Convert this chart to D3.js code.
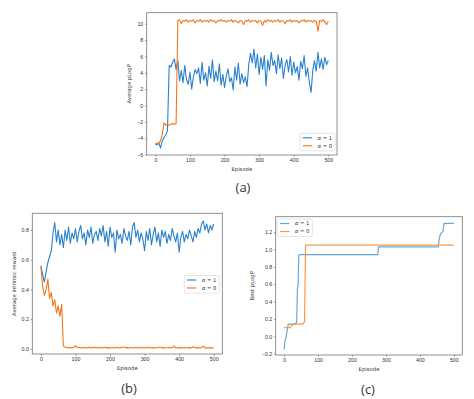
<!DOCTYPE html>
<html>
<head>
<meta charset="utf-8">
<script src="https://cdn.jsdelivr.net/npm/d3@7"></script>
<style>
  body { margin: 0; background: #fff; }
  svg { font-family: "DejaVu Sans", sans-serif; }
  .tick text { fill: #333; font-size: 5.3px; }
  .tick line { stroke: #444; stroke-width: 0.6; }
  .domain { display: none; }
  .caption { font-family: "Open Sans", sans-serif; font-size: 13px; fill: #333; }
</style>
</head>
<body>
<div id="chart"></div>
<script>
// sampled every 5 episodes
const episodes = d3.range(0, 501, 5);

// (a) average pLogP
const pLogpAlpha1 = [
  -4.7, -4.8, -4.6, -5.2, -4.3, -3.9, -3.6, -3.1, 4.9, 4.7,
  5.3, 5.7, 4.4, 5.5, 3.0, 4.3, 2.8, 4.9, 3.2, 2.6,
  4.1, 2.0, 3.5, 4.4, 3.9, 4.6, 2.7, 5.3, 3.1, 4.0,
  2.4, 4.8, 3.3, 5.6, 2.9, 4.2, 3.0, 5.1, 2.5, 3.8,
  2.2, 3.6, 4.5, 2.9, 3.4, 1.9, 4.7, 3.1, 5.2, 2.6,
  3.9, 2.8, 3.5, 2.3, 5.0, 6.4, 5.2, 6.9, 4.6, 6.3,
  3.8, 5.9, 4.4, 6.1, 2.4, 5.6, 4.3, 6.5, 4.9, 5.5,
  3.9, 6.2, 4.5, 5.8, 3.3, 4.9, 5.6, 4.1, 6.0, 3.7,
  5.3, 4.0, 4.8, 3.1, 5.4, 4.5, 6.1, 3.6, 4.6, 2.9,
  1.6, 4.3, 5.5, 4.2, 6.5, 4.6, 5.7, 4.4, 5.9, 5.0,
  5.5
];
const pLogpAlpha0 = [
  -4.7, -4.6, -4.6, -4.3, -3.5, -2.1, -2.4, -2.3, -2.4, -2.3,
  -2.2, -2.3, -2.2, 10.4, 10.5, 10.0, 10.4, 10.3, 10.5, 10.2,
  10.4, 10.3, 10.5, 10.1, 10.4, 10.3, 10.5, 10.2, 10.4, 10.3,
  10.4, 10.2, 10.5, 10.3, 10.4, 10.1, 10.4, 10.3, 10.5, 10.3,
  10.4, 10.2, 10.4, 10.3, 10.5, 10.2, 10.4, 10.3, 10.1, 10.4,
  10.3, 9.9, 10.4, 10.3, 10.5, 10.2, 10.4, 10.3, 10.4, 10.1,
  10.4, 10.3, 9.8, 10.4, 10.2, 10.5, 10.3, 10.4, 10.2, 10.4,
  10.3, 10.5, 10.2, 10.4, 10.3, 10.0, 10.4, 10.3, 10.5, 10.2,
  10.4, 10.3, 10.4, 10.1, 10.4, 10.3, 10.5, 10.2, 10.4, 10.3,
  10.4, 10.2, 10.4, 10.3, 9.1, 10.4, 10.3, 10.5, 10.2, 9.9,
  10.3
];

// (b) average intrinsic reward
const rewardAlpha1 = [
  0.56, 0.50, 0.45, 0.52, 0.58, 0.62, 0.66, 0.78, 0.85, 0.72,
  0.80, 0.70, 0.77, 0.68, 0.80, 0.73, 0.82, 0.71, 0.78, 0.74,
  0.81, 0.72, 0.79, 0.83, 0.74, 0.78, 0.70, 0.80, 0.75, 0.82,
  0.71, 0.77, 0.79, 0.73, 0.81, 0.76, 0.83, 0.72, 0.79, 0.69,
  0.82, 0.75, 0.78, 0.65, 0.80, 0.74, 0.77, 0.71, 0.81, 0.76,
  0.73, 0.79, 0.70, 0.82, 0.85, 0.75, 0.80, 0.72, 0.78, 0.74,
  0.66, 0.79, 0.73, 0.81, 0.70, 0.77, 0.82, 0.72, 0.78, 0.69,
  0.80, 0.75, 0.79, 0.71, 0.77, 0.73, 0.81, 0.76, 0.72, 0.78,
  0.65, 0.75, 0.79, 0.72, 0.77, 0.74, 0.80, 0.76, 0.72, 0.79,
  0.75, 0.81, 0.78, 0.84, 0.86, 0.80, 0.84, 0.78, 0.83, 0.80,
  0.84
];
const rewardAlpha0 = [
  0.55, 0.42, 0.36, 0.40, 0.47, 0.34, 0.38, 0.29, 0.33, 0.24,
  0.29, 0.22, 0.30, 0.02, 0.012, 0.008, 0.010, 0.007, 0.009, 0.008,
  0.022, 0.008, 0.011, 0.006, 0.009, 0.008, 0.010, 0.007, 0.012, 0.006,
  0.009, 0.011, 0.007, 0.010, 0.006, 0.009, 0.008, 0.012, 0.007, 0.009,
  0.006, 0.010, 0.008, 0.007, 0.011, 0.006, 0.009, 0.008, 0.014, 0.007,
  0.009, 0.006, 0.010, 0.008, 0.007, 0.011, 0.006, 0.009, 0.008, 0.007,
  0.010, 0.006, 0.012, 0.008, 0.007, 0.009, 0.006, 0.010, 0.008, 0.013,
  0.007, 0.009, 0.006, 0.008, 0.010, 0.007, 0.009, 0.021, 0.006, 0.008,
  0.007, 0.009, 0.006, 0.010, 0.008, 0.007, 0.009, 0.006, 0.016, 0.008,
  0.007, 0.009, 0.006, 0.010, 0.019, 0.007, 0.008, 0.006, 0.009, 0.007,
  0.005
];

// (c) best pLogP, step-like so its own episode points
const bestEpAlpha1 = [0, 2, 4, 6, 8, 10, 12, 35, 37, 39, 41, 43, 45, 276, 278, 454, 457, 460, 465, 468, 471, 500];
const bestAlpha1 = [-0.15, -0.05, -0.04, 0.0, 0.05, 0.1, 0.14, 0.14, 0.19, 0.55, 0.58, 0.93, 0.94, 0.94, 1.03, 1.03, 1.12, 1.17, 1.2, 1.2, 1.3, 1.3];
const bestEpAlpha0 = [0, 18, 20, 25, 27, 55, 58, 60, 63, 500];
const bestAlpha0 = [0.1, 0.1, 0.12, 0.13, 0.14, 0.14, 0.16, 0.16, 1.05, 1.05];

const xTicks = [0, 100, 200, 300, 400, 500];
const legendNames = ["1", "0"];

const W = 474, H = 399;
const svg = d3.select("#chart").append("svg").attr("width", W).attr("height", H);

function zip(xs, ys) { return xs.map((x, i) => [x, ys[i]]); }

function drawPanel(p) {
  const x = d3.scaleLinear().domain([-25, 525]).range([p.left, p.right]);
  const y = d3.scaleLinear().domain(p.yDomain).range([p.bottom, p.top]);
  const g = svg.append("g");

  g.append("g")
    .attr("transform", "translate(0," + p.bottom + ")")
    .call(d3.axisBottom(x).tickValues(xTicks).tickSize(1.6).tickPadding(1.8));
  g.append("g")
    .attr("transform", "translate(" + p.left + ",0)")
    .call(d3.axisLeft(y).tickValues(p.yTicks).tickFormat(p.yFmt).tickSize(1.6).tickPadding(1.8));

  const line = d3.line().x(d => x(d[0])).y(d => y(d[1]));
  p.series.forEach(s => {
    g.append("path")
      .attr("d", line(s.data))
      .attr("fill", "none")
      .attr("stroke", s.color)
      .attr("stroke-width", p.lw)
      .attr("stroke-linejoin", "round");
  });

  // frame
  g.append("rect")
    .attr("x", p.left).attr("y", p.top)
    .attr("width", p.right - p.left).attr("height", p.bottom - p.top)
    .attr("fill", "none").attr("stroke", "#777").attr("stroke-width", 0.8);

  // axis labels
  g.append("text")
    .attr("x", (p.left + p.right) / 2).attr("y", p.bottom + 15.5)
    .attr("text-anchor", "middle").attr("font-size", 5.3).attr("fill", "#333")
    .text("Episode");
  g.append("text")
    .attr("transform", "translate(" + p.ylabelX + "," + (p.top + p.bottom) / 2 + ") rotate(-90)")
    .attr("text-anchor", "middle").attr("font-size", 5.3).attr("fill", "#333")
    .text(p.ylabel);

  // legend
  const lg = g.append("g").attr("transform", "translate(" + p.legend[0] + "," + p.legend[1] + ")");
  lg.append("rect")
    .attr("width", 35).attr("height", 17.5).attr("rx", 1.2)
    .attr("fill", "#fff").attr("fill-opacity", 0.8)
    .attr("stroke", "#d4d4d4").attr("stroke-width", 0.6);
  p.series.forEach((s, i) => {
    const ry = 4.5 + i * 8;
    lg.append("line")
      .attr("x1", 2.7).attr("x2", 12).attr("y1", ry).attr("y2", ry)
      .attr("stroke", s.color).attr("stroke-width", p.lw);
    const t = lg.append("text")
      .attr("x", 17.5).attr("y", ry + 1.9)
      .attr("font-size", 5.3).attr("fill", "#333");
    t.append("tspan").attr("font-style", "italic").text("α");
    t.append("tspan").text(" = " + legendNames[i]);
  });

  svg.append("text").attr("class", "caption")
    .attr("x", p.caption[0]).attr("y", p.caption[1])
    .attr("text-anchor", "middle").text(p.captionText);
}

const blue = "#2b81cc", orange = "#f5761a";
const blueC = "#68a8d6", orangeC = "#f59a4e";

drawPanel({
  left: 146.7, right: 337, top: 12.7, bottom: 155,
  yDomain: [-6.05, 11.35], yTicks: [-6, -4, -2, 0, 2, 4, 6, 8, 10], yFmt: d => d3.format("d")(d).replace("-", "\u2212"),
  ylabel: "Average pLogP", ylabelX: 131,
  lw: 1.1,
  series: [
    { data: zip(episodes, pLogpAlpha1), color: blue },
    { data: zip(episodes, pLogpAlpha0), color: orange }
  ],
  legend: [300, 133.3],
  caption: [243, 192], captionText: "(a)"
});

drawPanel({
  left: 32.3, right: 222.3, top: 213.3, bottom: 354,
  yDomain: [-0.034, 0.912], yTicks: [0, 0.2, 0.4, 0.6, 0.8], yFmt: d3.format(".1f"),
  ylabel: "Average intrinsic reward", ylabelX: 16,
  lw: 1.1,
  series: [
    { data: zip(episodes, rewardAlpha1), color: blue },
    { data: zip(episodes, rewardAlpha0), color: orange }
  ],
  legend: [184.3, 275.5],
  caption: [129, 393], captionText: "(b)"
});

drawPanel({
  left: 275.7, right: 462.3, top: 216.7, bottom: 355,
  yDomain: [-0.215, 1.376], yTicks: [-0.2, 0, 0.2, 0.4, 0.6, 0.8, 1.0, 1.2], yFmt: d => d3.format(".1f")(d).replace("-", "\u2212"),
  ylabel: "Best pLogP", ylabelX: 254,
  lw: 1.2,
  series: [
    { data: zip(bestEpAlpha1, bestAlpha1), color: blueC },
    { data: zip(bestEpAlpha0, bestAlpha0), color: orangeC }
  ],
  legend: [277.3, 219],
  caption: [368, 394], captionText: "(c)"
});
</script>
</body>
</html>
